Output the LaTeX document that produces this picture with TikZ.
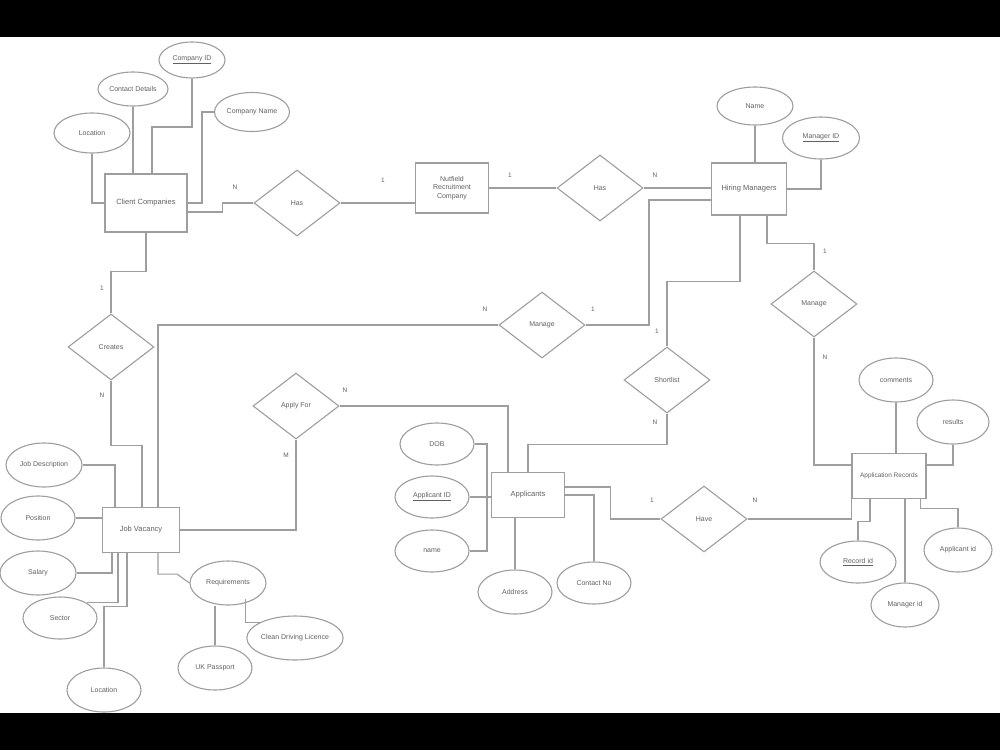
\documentclass[tikz,border=0pt]{standalone}
\usepackage{fontspec}
\setmainfont{Liberation Sans}
\usetikzlibrary{shapes.geometric}
\definecolor{ln}{gray}{0.62}
\definecolor{tx}{gray}{0.38}
\tikzset{
  ent/.style={draw=ln, line width=1.1pt, rectangle, inner sep=0pt, text=tx, font=\fontsize{7.5}{9}\selectfont, align=center},
  att/.style={draw=ln, line width=1.1pt, ellipse, inner sep=0pt, text=tx, font=\fontsize{7}{8}\selectfont},
  rel/.style={draw=ln, line width=1.1pt, diamond, aspect=1.3, inner sep=0pt, minimum width=86pt, minimum height=66pt, text=tx, font=\fontsize{7}{8}\selectfont},
  card/.style={text=tx, font=\fontsize{6.5}{7}\selectfont, inner sep=0pt},
  conn/.style={draw=ln, line width=1.1pt}
}
\begin{document}
\begin{tikzpicture}[x=1pt,y=-1pt]
\useasboundingbox (0,0) rectangle (1000,750);
\fill[white] (0,0) rectangle (1000,750);
\fill[black] (0,0) rectangle (1000,37);
\fill[black] (0,713) rectangle (1000,750);

% Client Companies
\node[ent, minimum width=82pt, minimum height=58pt] (cc) at (146,203) {Client Companies};
\node[att, minimum width=66pt, minimum height=36pt] (cid) at (192,60) {\underline{Company ID}};
\node[att, minimum width=70pt, minimum height=34pt] (cd) at (133,89) {Contact Details};
\node[att, minimum width=76pt, minimum height=40pt] (loca) at (92,133) {Location};
\node[att, minimum width=75pt, minimum height=39pt] (cn) at (252,112) {Company Name};

% Recruitment company
\node[rel] (has1) at (297,203) {Has};
\node[ent, minimum width=73pt, minimum height=50pt, font=\fontsize{7}{8.5}\selectfont] (nut) at (452,188) {Nutfield\\Recruitment\\Company};
\node[rel] (has2) at (600,188) {Has};

% Hiring managers
\node[ent, minimum width=75pt, minimum height=52pt] (hm) at (749,189) {Hiring Managers};
\node[att, minimum width=76pt, minimum height=38pt] (hname) at (755,106) {Name};
\node[att, minimum width=77pt, minimum height=42pt] (mid) at (821,138) {\underline{Manager ID}};

% Relationships
\node[rel] (cr) at (111,347) {Creates};
\node[rel] (man1) at (542,325) {Manage};
\node[rel] (sl) at (667,380) {Shortlist};
\node[rel] (man2) at (814,304) {Manage};
\node[rel] (af) at (296,406) {Apply For};
\node[rel] (have) at (704,519) {Have};

% Job Vacancy
\node[ent, minimum width=77pt, minimum height=45pt] (jv) at (141,530) {Job Vacancy};
\node[att, minimum width=76pt, minimum height=44pt] (jd) at (44,465) {Job Description};
\node[att, minimum width=74pt, minimum height=44pt] (pos) at (38,518) {Position};
\node[att, minimum width=76pt, minimum height=44pt] (sal) at (38,573) {Salary};
\node[att, minimum width=74pt, minimum height=42pt] (sec) at (60,618) {Sector};
\node[att, minimum width=74pt, minimum height=44pt] (locb) at (104,690) {Location};
\node[att, minimum width=76pt, minimum height=44pt] (req) at (228,583) {Requirements};
\node[att, minimum width=74pt, minimum height=44pt] (ukp) at (215,668) {UK Passport};
\node[att, minimum width=84pt, minimum height=44pt] (cdl) at (295,638) {Clean Driving Licence};

% Applicants
\node[ent, minimum width=73pt, minimum height=45pt] (app) at (528,495) {Applicants};
\node[att, minimum width=74pt, minimum height=42pt] (dob) at (437,444) {DOB};
\node[att, minimum width=74pt, minimum height=42pt] (apid) at (432,497) {\underline{Applicant ID}};
\node[att, minimum width=74pt, minimum height=42pt] (nm) at (432,551) {name};
\node[att, minimum width=74pt, minimum height=44pt] (addr) at (515,592) {Address};
\node[att, minimum width=74pt, minimum height=42pt] (cno) at (594,583) {Contact No};

% Application Records
\node[ent, minimum width=74pt, minimum height=45pt, font=\fontsize{6.5}{8}\selectfont] (ar) at (889,476) {Application Records};
\node[att, minimum width=74pt, minimum height=44pt] (com) at (896,380) {comments};
\node[att, minimum width=72pt, minimum height=44pt] (res) at (953,422) {results};
\node[att, minimum width=76pt, minimum height=42pt] (rid) at (858,562) {\underline{Record id}};
\node[att, minimum width=68pt, minimum height=44pt] (mgid) at (905,605) {Manager id};
\node[att, minimum width=68pt, minimum height=44pt] (aid) at (958,550) {Applicant id};

% Connectors: Client Companies
\draw[conn] (loca.south) |- (cc.west);
\draw[conn] (cd.south) -- (cd.south |- cc.north);
\draw[conn] (cid.south) -- (cid.south |- 0,127) -| ([xshift=6pt]cc.north);
\draw[conn] (cn.west) -- ++(-12,0) |- (cc.east);
\draw[conn] ([yshift=-9pt]cc.east) -- ++(35,0) |- (has1.west);
\draw[conn] (has1.east) -- (has1.east -| nut.west);
\draw[conn] (nut.east) -- (has2.west);
\draw[conn] (has2.east) -- (has2.east -| hm.west);
\draw[conn] (hname.south) -- (hname.south |- hm.north);
\draw[conn] (mid.south) |- (hm.east);

% Hiring managers links
\draw[conn] ([yshift=-11pt]hm.west) -- ++(-62,0) |- (man1.east);
\draw[conn] (man1.west) -| ([xshift=17pt]jv.north);
\draw[conn] ([xshift=-9pt]hm.south) -- ++(0,66) -| (sl.north);
\draw[conn] (sl.south) -- ++(0,31) -| (app.north);
\draw[conn] ([xshift=18pt]hm.south) -- ++(0,28) -| (man2.north);
\draw[conn] (man2.south) |- ([yshift=11pt]ar.west);

% Creates
\draw[conn] (cr.north) -- ++(0,-42) -| (cc.south);
\draw[conn] (cr.south) -- ++(0,65) -| ([xshift=1pt]jv.north);

% Apply For
\draw[conn] (af.east) -| ([xshift=-20pt]app.north);
\draw[conn] (af.south) |- (jv.east);

% Job vacancy attributes
\draw[conn] (jd.east) -| ([xshift=-26pt]jv.north);
\draw[conn] (pos.east) -- (pos.east -| jv.west);
\draw[conn] (sal.east) -| ([xshift=-29pt]jv.south);
\draw[conn] (sec.north east) -| ([xshift=-23pt]jv.south);
\draw[conn] (locb.north) -- ++(0,-61) -| ([xshift=-14pt]jv.south);
\draw[conn] ([xshift=17pt]jv.south) -- ++(0,21) -- ++(19,0) -- (req.west);
\draw[conn] ([xshift=-13pt]req.south) -- (ukp.north);
\draw[conn] ([xshift=-10pt]req.south east) |- (cdl.north west);

% Applicants attributes
\draw[conn] (dob.east) -| ([xshift=-4pt]app.south west |- nm.east) -- (nm.east);
\draw[conn] (apid.east) -- (apid.east -| app.west);
\draw[conn] (addr.north |- app.south) -- (addr.north);
\draw[conn] (app.east) -| (cno.north);
\draw[conn] ([yshift=8pt]app.east) -- ++(45,0) |- (have.west);
\draw[conn] (have.east) -| (ar.south west);

% Application records attributes
\draw[conn] (com.south) -- (com.south |- ar.north);
\draw[conn] (res.south) |- ([yshift=11pt]ar.east);
\draw[conn] ([xshift=-19pt]ar.south) -- ++(0,22) -| (rid.north);
\draw[conn] (mgid.north |- ar.south) -- (mgid.north);
\draw[conn] ([xshift=-6pt]ar.south east) -- ++(0,9) -| (aid.north);

% Cardinalities
\node[card] (c1) at (235,187) {N};
\node[card] (c2) at (383,180) {1};
\node[card] (c3) at (510,175) {1};
\node[card] (c4) at (655,175) {N};
\node[card] (c5) at (102,288) {1};
\node[card] (c6) at (102,395) {N};
\node[card] (c7) at (485,309) {N};
\node[card] (c8) at (593,309) {1};
\node[card] (c9) at (657,331) {1};
\node[card] (c10) at (655,422) {N};
\node[card] (c11) at (825,251) {1};
\node[card] (c12) at (825,357) {N};
\node[card] (c13) at (286,455) {M};
\node[card] (c14) at (345,390) {N};
\node[card] (c15) at (652,500) {1};
\node[card] (c16) at (755,500) {N};
\end{tikzpicture}
\end{document}
